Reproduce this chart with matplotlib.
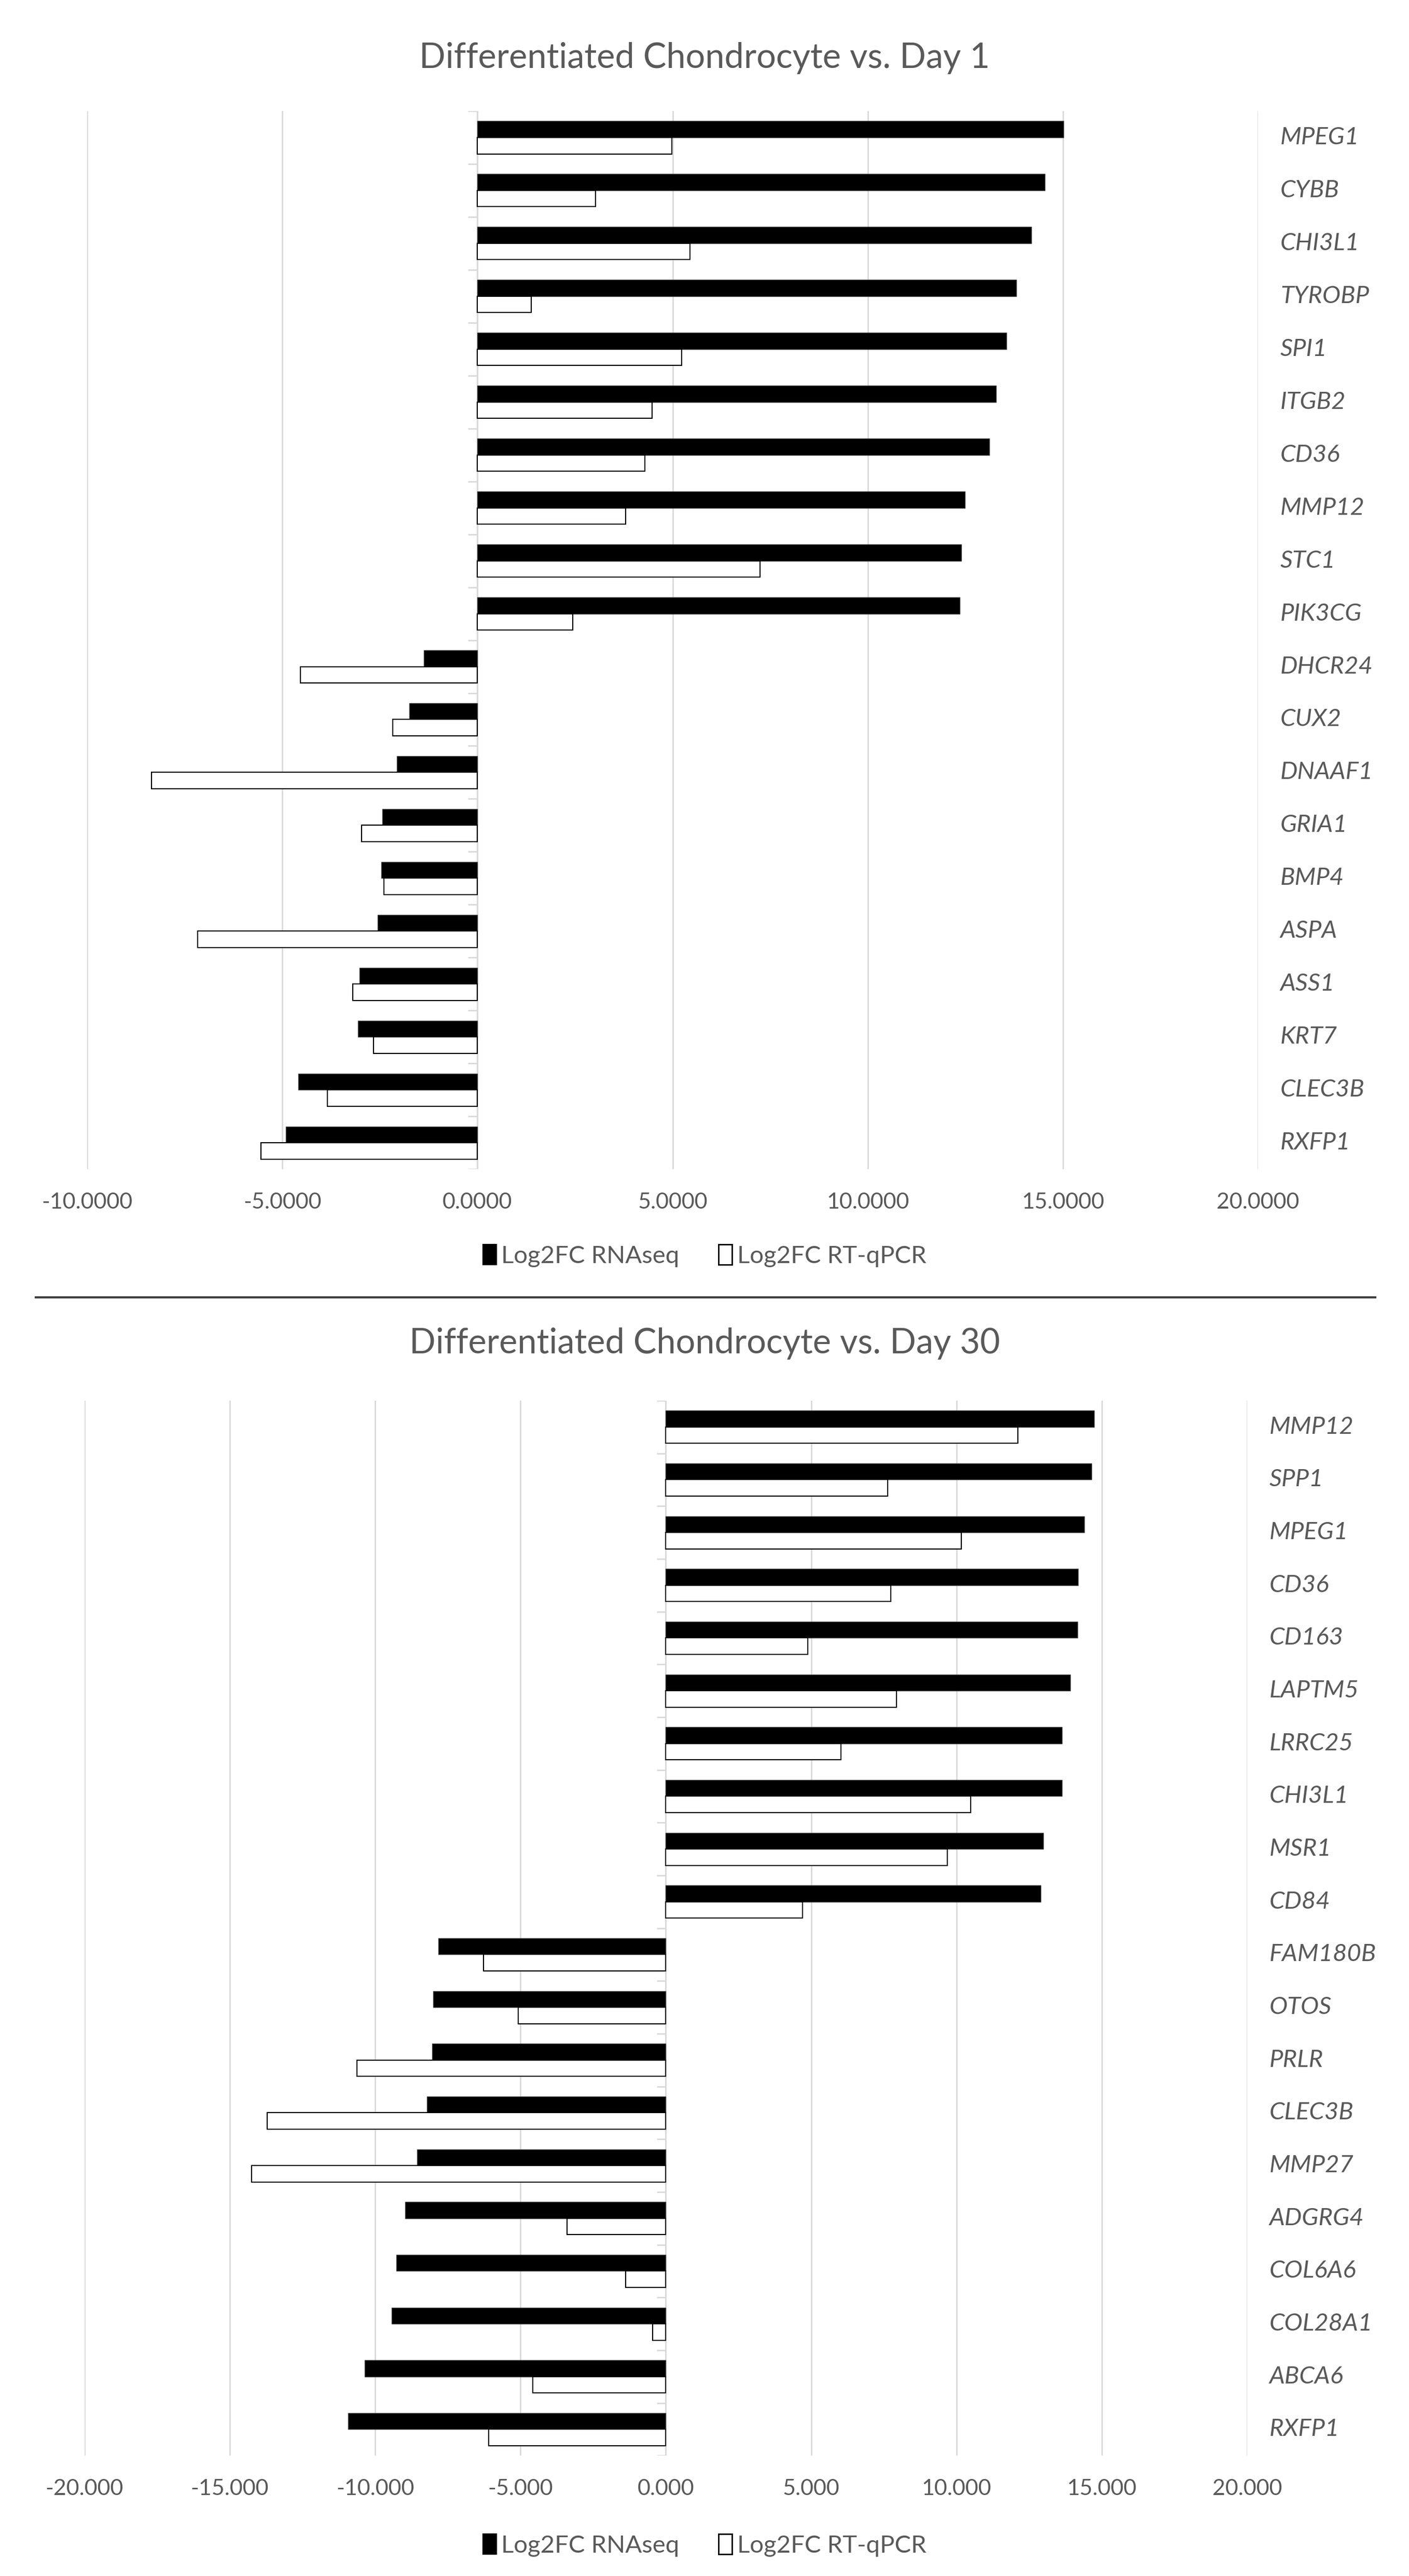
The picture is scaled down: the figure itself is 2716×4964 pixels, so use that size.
import matplotlib
matplotlib.use("Agg")
import matplotlib.pyplot as plt
from matplotlib.patches import Patch
from matplotlib.lines import Line2D
import numpy as np

plt.rcParams['font.family'] = ['Lato', 'DejaVu Sans']
plt.rcParams['axes.unicode_minus'] = False

# ---- Data: Differentiated Chondrocyte vs. Day 1 (top to bottom) ----
genes_d1 = ["MPEG1", "CYBB", "CHI3L1", "TYROBP", "SPI1", "ITGB2", "CD36", "MMP12",
            "STC1", "PIK3CG", "DHCR24", "CUX2", "DNAAF1", "GRIA1", "BMP4", "ASPA",
            "ASS1", "KRT7", "CLEC3B", "RXFP1"]
rnaseq_d1 = [15.02, 14.54, 14.19, 13.80, 13.55, 13.29, 13.11, 12.49, 12.40, 12.35,
             -1.38, -1.75, -2.07, -2.44, -2.47, -2.56, -3.02, -3.06, -4.59, -4.91]
qpcr_d1 = [4.98, 3.02, 5.44, 1.38, 5.23, 4.47, 4.29, 3.80, 7.24, 2.44,
           -4.54, -2.17, -8.36, -2.97, -2.40, -7.17, -3.20, -2.67, -3.85, -5.55]
ticks_d1 = [-10, -5, 0, 5, 10, 15, 20]

# ---- Data: Differentiated Chondrocyte vs. Day 30 (top to bottom) ----
genes_d30 = ["MMP12", "SPP1", "MPEG1", "CD36", "CD163", "LAPTM5", "LRRC25", "CHI3L1",
             "MSR1", "CD84", "FAM180B", "OTOS", "PRLR", "CLEC3B", "MMP27", "ADGRG4",
             "COL6A6", "COL28A1", "ABCA6", "RXFP1"]
rnaseq_d30 = [14.74, 14.65, 14.40, 14.19, 14.16, 13.91, 13.63, 13.63, 12.98, 12.89,
              -7.82, -8.01, -8.04, -8.22, -8.56, -8.96, -9.27, -9.43, -10.36, -10.94]
qpcr_d30 = [12.12, 7.64, 10.17, 7.73, 4.88, 7.94, 6.03, 10.48, 9.68, 4.70,
            -6.28, -5.07, -10.63, -13.72, -14.25, -3.40, -1.39, -0.46, -4.57, -6.09]
ticks_d30 = [-20, -15, -10, -5, 0, 5, 10, 15, 20]

GRAY = "#595959"
GRID = "#d9d9d9"

W, H = 2716, 4964
fig = plt.figure(figsize=(W / 100, H / 100), dpi=100)


def panel(rect, genes, rna, qpcr, ticks, fmt, title, title_y, legend_y):
    ax = fig.add_axes(rect)
    n = len(genes)
    y = np.arange(n)[::-1].astype(float)
    h = 0.31
    ax.barh(y + h / 2, rna, height=h, color="black", edgecolor="#404040", linewidth=1.0, zorder=3)
    ax.barh(y - h / 2, qpcr, height=h, color="white", edgecolor="black", linewidth=1.5, zorder=3)
    ax.set_xlim(ticks[0], ticks[-1])
    ax.set_ylim(-0.5, n - 0.5)
    ax.set_xticks(ticks)
    ax.set_xticklabels([fmt.format(t) for t in ticks])
    ax.set_yticks([])
    for s in ax.spines.values():
        s.set_visible(False)
    ax.grid(axis="x", color=GRID, linewidth=2.0, zorder=0)
    ax.set_axisbelow(True)
    ax.tick_params(axis="x", length=0, pad=32, labelsize=31, labelcolor=GRAY)
    # vertical category axis at zero with small boundary ticks
    ax.axvline(0, color=GRID, linewidth=2.0, zorder=2)
    span = ticks[-1] - ticks[0]
    ax.hlines(np.arange(n + 1) - 0.5, -0.008 * span, 0, color=GRID, linewidth=2.0, zorder=2)
    # category labels on the right
    trans = matplotlib.transforms.blended_transform_factory(ax.transAxes, ax.transData)
    for g, yy in zip(genes, y):
        ax.text(1.019, yy, g, transform=trans, ha="left", va="center",
                fontsize=34, style="italic", color=GRAY)
    fig.text(0.5, title_y, title, ha="center", va="center", fontsize=48, color=GRAY)
    handles = [Patch(facecolor="black", edgecolor="black", linewidth=1.5),
               Patch(facecolor="white", edgecolor="black", linewidth=2.0)]
    fig.legend(handles, ["Log2FC RNAseq", "Log2FC RT-qPCR"], loc="center",
               bbox_to_anchor=(0.5, legend_y), ncol=2, frameon=False, fontsize=34,
               handlelength=0.55, handleheight=0.9, handletextpad=0.2, columnspacing=1.6,
               labelcolor=GRAY)
    return ax


panel([0.0619, 0.5461, 0.8310, 0.4108], genes_d1, rnaseq_d1, qpcr_d1, ticks_d1,
      "{:.4f}", "Differentiated Chondrocyte vs. Day 1", 0.9775, 0.5125)
panel([0.0600, 0.0467, 0.8251, 0.4096], genes_d30, rnaseq_d30, qpcr_d30, ticks_d30,
      "{:.3f}", "Differentiated Chondrocyte vs. Day 30", 0.4785, 0.0119)

fig.add_artist(Line2D([0.0254, 0.976], [0.4964, 0.4964], transform=fig.transFigure,
                      color="#404040", linewidth=3.0))

fig.savefig("out.png", dpi=100, facecolor="white")
